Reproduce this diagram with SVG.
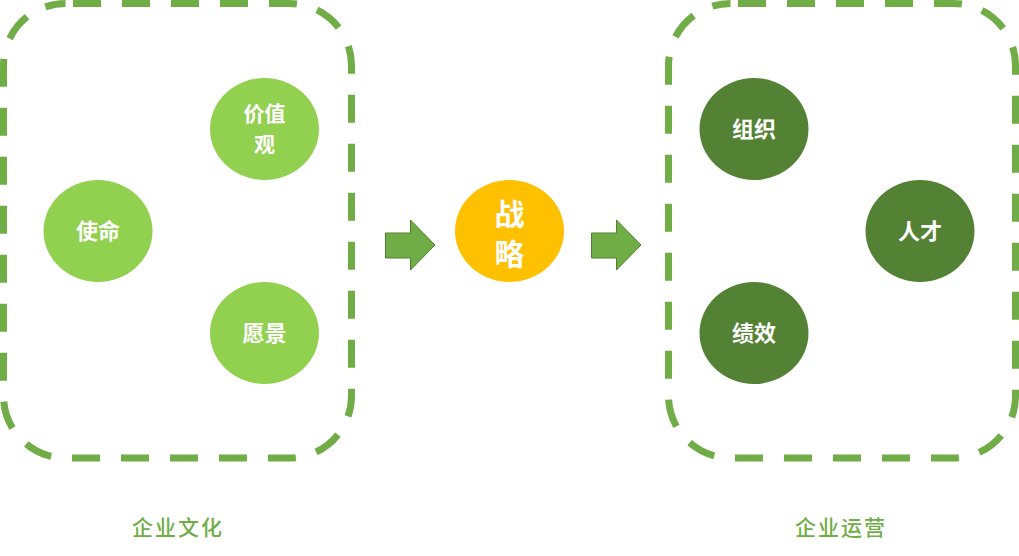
<svg xmlns="http://www.w3.org/2000/svg" width="1019" height="556" viewBox="0 0 1019 556">
<style>
.frame{fill:none;stroke:#70AD47;stroke-width:7;stroke-dasharray:28 21;stroke-dashoffset:41.5}
.light{fill:#92D050}
.dark{fill:#548235}
.core{fill:#FFC000}
.arrow{fill:#70AD47;stroke:#507E32;stroke-width:1}
.t{font-family:"Noto Sans CJK SC","Liberation Sans",sans-serif;font-weight:bold;fill:#FFFFFF;text-anchor:middle;font-size:22px}
.sm{font-size:21px}
.big{font-size:30px}
.lbl{font-family:"Noto Sans CJK SC","Liberation Sans",sans-serif;font-weight:500;fill:#70AD47;text-anchor:middle;font-size:21px;letter-spacing:2px}
</style>
<rect width="1019" height="556" fill="#FFFFFF"/>
<g id="culture-frame">
<rect class="frame" x="3.5" y="3.5" width="348" height="454.5" rx="62" ry="62"/>
<text class="lbl" x="178" y="535">企业文化</text>
</g>
<g id="operation-frame">
<rect class="frame" x="668.5" y="3.5" width="347" height="454.5" rx="62" ry="62"/>
<text class="lbl" x="841" y="535">企业运营</text>
</g>
<g id="values">
<ellipse class="light" cx="264.5" cy="129" rx="54.5" ry="51"/>
<text class="t sm" x="264.5" y="121">价值</text>
<text class="t sm" x="264.5" y="152">观</text>
</g>
<g id="mission">
<ellipse class="light" cx="98" cy="231" rx="54.5" ry="51"/>
<text class="t" x="98" y="239">使命</text>
</g>
<g id="vision">
<ellipse class="light" cx="264.5" cy="333" rx="54.5" ry="51"/>
<text class="t" x="264.5" y="341">愿景</text>
</g>
<g id="strategy">
<ellipse class="core" cx="509.5" cy="231" rx="54.5" ry="51"/>
<text class="t big" x="509.5" y="225">战</text>
<text class="t big" x="509.5" y="265">略</text>
</g>
<g id="organization">
<ellipse class="dark" cx="754" cy="129" rx="54.5" ry="51"/>
<text class="t" x="754" y="137">组织</text>
</g>
<g id="talent">
<ellipse class="dark" cx="920" cy="231" rx="54.5" ry="51"/>
<text class="t" x="920" y="239">人才</text>
</g>
<g id="performance">
<ellipse class="dark" cx="754" cy="333" rx="54.5" ry="51"/>
<text class="t" x="754" y="341">绩效</text>
</g>
<g id="connectors">
<polygon class="arrow" points="385.5,233 410.5,233 410.5,220 435,245 410.5,270 410.5,258 385.5,258"/>
<polygon class="arrow" points="591.5,233 616.5,233 616.5,220 641,245 616.5,270 616.5,258 591.5,258"/>
</g>
</svg>
